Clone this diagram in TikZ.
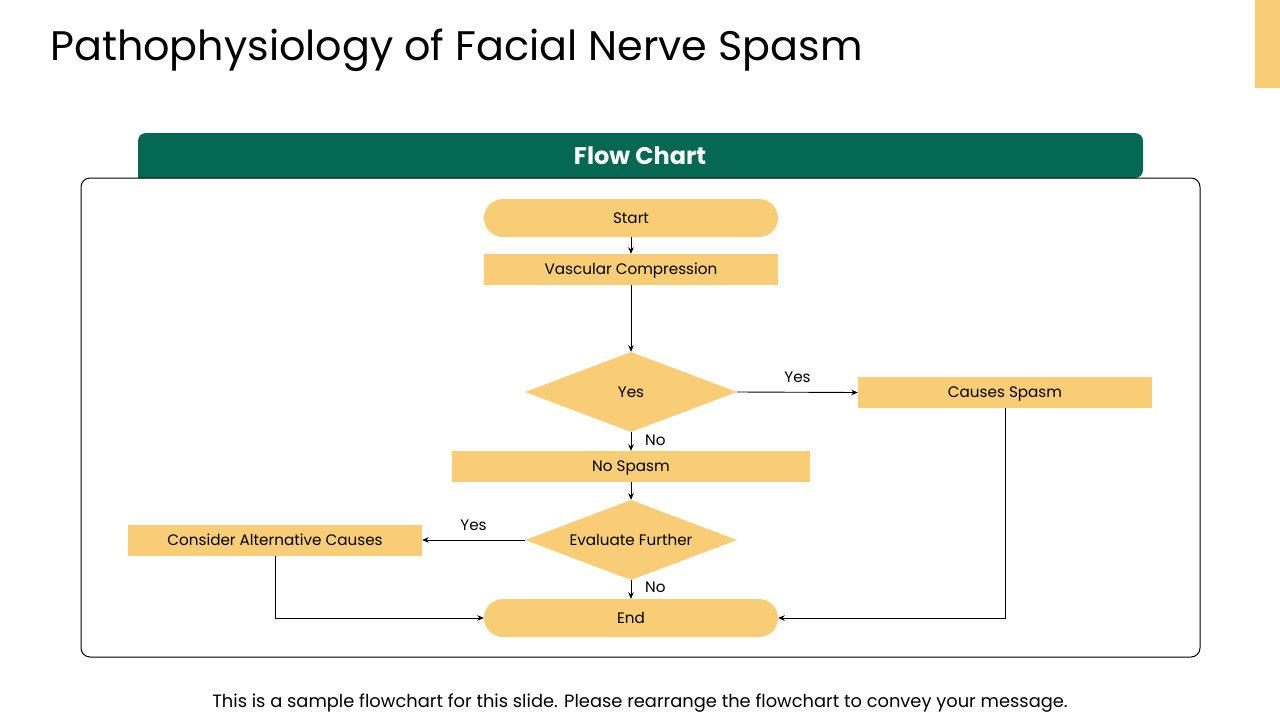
\documentclass[tikz,border=0pt]{standalone}
\usepackage{fontspec}
\setmainfont{Poppins}
\usetikzlibrary{shapes.geometric,arrows.meta}
\definecolor{ygold}{HTML}{F9CD76}
\definecolor{hgreen}{HTML}{046852}
\begin{document}
\begin{tikzpicture}[x=1pt,y=-1pt,
  box/.style={fill=ygold,inner sep=0pt,minimum height=31pt,text height=10.5pt,text depth=0pt,font=\fontsize{15.2}{18}\selectfont},
  term/.style={box,rounded corners=19pt,minimum width=294pt,minimum height=38pt},
  dec/.style={diamond,fill=ygold,inner sep=0pt,minimum width=212pt,minimum height=80pt,aspect=2.65,text height=10.5pt,text depth=0pt,font=\fontsize{15.2}{18}\selectfont},
  conn/.style={draw=black,line width=0.9pt,-{Stealth[length=6.5pt,width=5.5pt]}},
  lbl/.style={font=\fontsize{15.2}{18}\selectfont,inner sep=0pt}]
\useasboundingbox (0,0) rectangle (1280,720);
\fill[white] (0,0) rectangle (1280,720);
% corner bar
\fill[ygold] (1255,0) rectangle (1280,88);
% title
\node[anchor=base west,inner sep=0pt,font=\fontsize{41.3}{48}\selectfont] (title) at (50,60) {Pathophysiology of Facial Nerve Spasm};
% header
\fill[hgreen,rounded corners=8pt] (138,178) -- (138,133) -- (1143,133) -- (1143,178) [sharp corners] -- cycle;
\node[text=white,font=\bfseries\fontsize{24}{28}\selectfont,inner sep=0pt] (hdr) at (640,156) {Flow Chart};
% frame
\draw[line width=1pt,rounded corners=9pt] (81,178) rectangle (1200,657);
% nodes
\node[term] (start) at (631,218) {Start};
\node[box,minimum width=294pt] (vc) at (631,269.5) {Vascular Compression};
\node[dec] (d1) at (631,392) {Yes};
\node[box,minimum width=294pt] (cs) at (1005,392.5) {Causes Spasm};
\node[box,minimum width=358pt] (ns) at (631,466.5) {No Spasm};
\node[dec] (d2) at (631,540) {Evaluate Further};
\node[box,minimum width=294pt] (ca) at (275,540) {Consider Alternative Causes};
\node[term] (end) at (631,618) {End};
% connectors
\draw[conn] (start) -- (vc);
\draw[conn] (vc) -- (d1);
\draw[conn] (d1.east) -- node[lbl,above=9pt] {Yes} (cs.west);
\draw[conn] (d1) -- (ns);
\node[lbl,anchor=west] at (645,440) {No};
\draw[conn] (ns) -- (d2);
\draw[conn] (d2.west) -- node[lbl,above=9pt] {Yes} (ca.east);
\draw[conn] (d2) -- (end);
\node[lbl,anchor=west] at (645,587) {No};
\draw[conn] (ca.south) |- (end.west);
\draw[conn] (cs.south) |- (end.east);
% footer
\node[font=\fontsize{17.85}{22}\selectfont,inner sep=0pt] (foot) at (640,703) {This is a sample flowchart for this slide. Please rearrange the flowchart to convey your message.};
\end{tikzpicture}
\end{document}
